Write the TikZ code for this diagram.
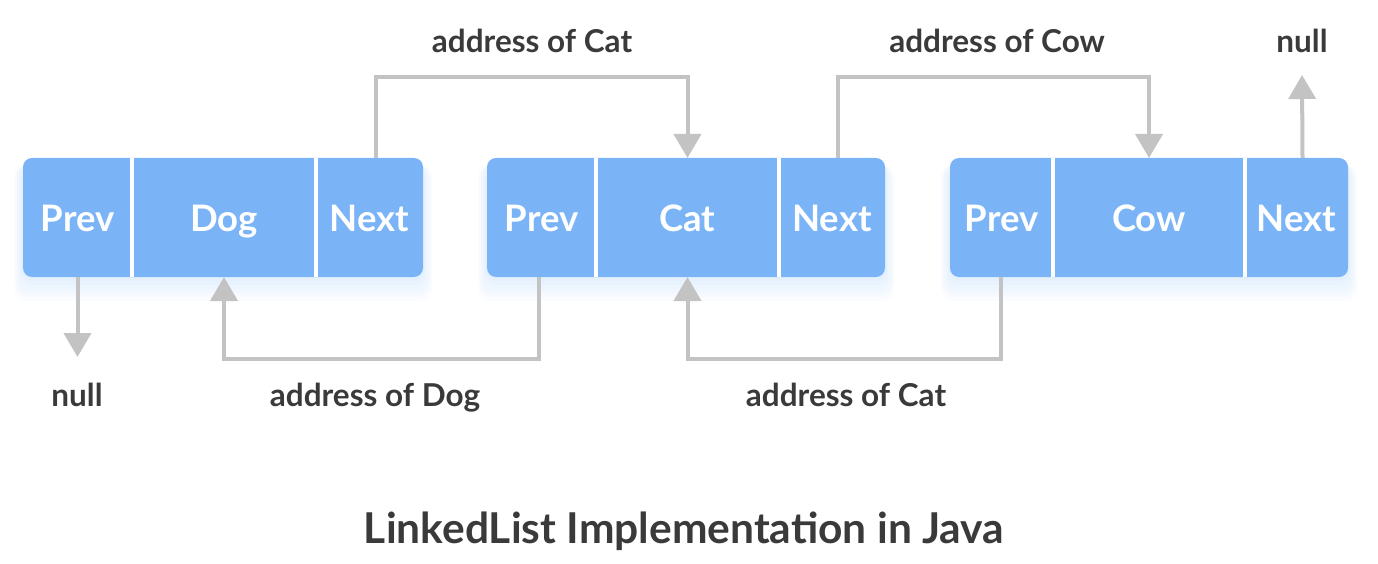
\documentclass[tikz,border=0pt]{standalone}
\usepackage{fontspec}
\setmainfont{Lato}
\usepackage{tikz}
\usetikzlibrary{arrows.meta,positioning,calc}

\definecolor{boxblue}{HTML}{7AB4F7}
\definecolor{linkgray}{HTML}{C3C3C3}
\definecolor{txtgray}{HTML}{3A3A3A}

\tikzset{
  cell/.style={inner sep=0pt, outer sep=0pt, minimum height=119pt, text height=27pt, text depth=0pt, text=white, font=\fontsize{36.5}{42}\selectfont\bfseries},
  link/.style={linkgray, line width=4pt, -{Triangle[width=27pt,length=24pt]}},
  lbl/.style={anchor=base, text=txtgray, font=\fontsize{31.5}{36}\selectfont\bfseries},
}

\begin{document}
\begin{tikzpicture}[x=1pt, y=-1pt]
\useasboundingbox (0,0) rectangle (1378,564);
% the three list items
\foreach \i/\l/\a/\b/\r/\val in {1/23/132/316/423/Dog, 2/487/596/779/885/Cat, 3/950/1053/1245/1348/Cow} {
  \foreach \k in {1,...,6} \fill[boxblue, opacity=.035, rounded corners=12pt] (\l-1.5*\k,165) rectangle (\r+1.5*\k,277+4*\k);
  \fill[boxblue, rounded corners=9pt] (\l,158) rectangle (\r,277);
  \node[cell, minimum width={(\a-\l)*1pt}] (prev\i) at ({(\l+\a)/2},217.5) {Prev};
  \node[cell, minimum width={(\b-\a)*1pt}] (data\i) at ({(\a+\b)/2},217.5) {\val};
  \node[cell, minimum width={(\r-\b)*1pt}] (next\i) at ({(\b+\r)/2},217.5) {Next};
  \foreach \c in {prev\i,data\i} \draw[white, line width=4pt] (\c.north east) -- (\c.south east);
}
% labels
\node[lbl] (toCat) at (532,53) {address of Cat};
\node[lbl] (toCow) at (997,53) {address of Cow};
\node[lbl] (nullnext) at (1302,53) {null};
\node[lbl] (nullprev) at (77,406) {null};
\node[lbl] (toDog) at (375,406) {address of Dog};
\node[lbl] (backCat) at (846,406) {address of Cat};
\coordinate (endnext) at (1302,75);
\coordinate (endprev) at (77.5,357);
% next pointers
\draw[link] ([xshift=6pt]next1.north) -- ++(0,-81) -| (data2.north);
\draw[link] ([xshift=6pt]next2.north) -- ++(0,-81) -| (data3.north);
\draw[link] ([xshift=6pt]next3.north) -- (endnext);
% prev pointers
\draw[link] (prev1.south) -- (endprev);
\draw[link] ([xshift=-3pt]prev2.south) -- ++(0,82) -| (data1.south);
\draw[link] ([xshift=-1pt]prev3.south) -- ++(0,82) -| (data2.south);
\node[anchor=base, text=txtgray, font=\fontsize{42.5}{48}\selectfont\bfseries] (title) at (684,543) {LinkedList Implementation in Java};
\end{tikzpicture}
\end{document}
